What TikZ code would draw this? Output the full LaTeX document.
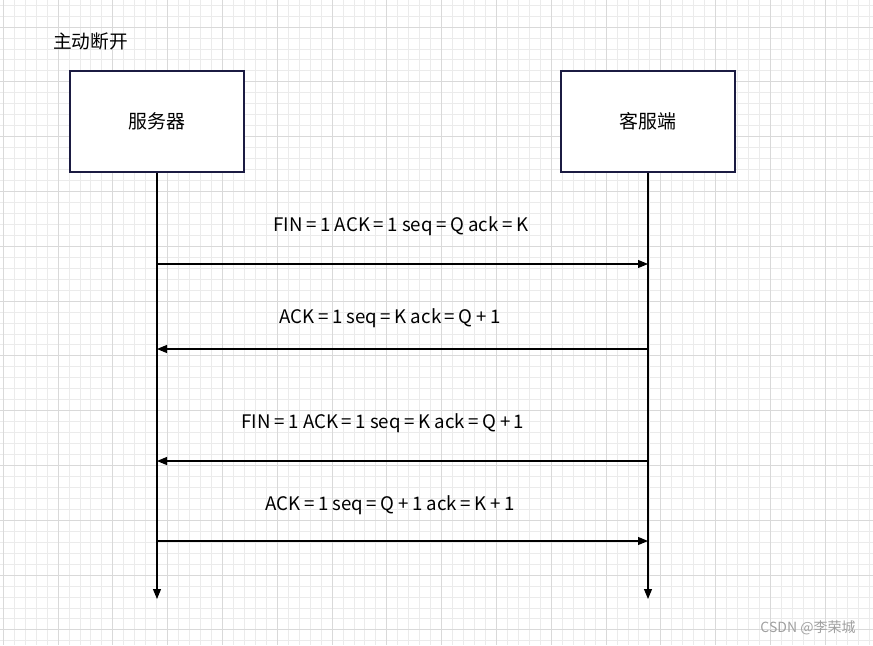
\documentclass[tikz,border=0pt]{standalone}
\usepackage{fontspec}
\usepackage{tikz}
\usetikzlibrary{arrows.meta}
\setmainfont{Noto Sans CJK SC}

\definecolor{gridminor}{HTML}{EBEBEB}
\definecolor{gridmajor}{HTML}{D9D9D9}
\definecolor{boxline}{HTML}{1B1B42}
\definecolor{markgray}{HTML}{A0A0A0}

% wide operators as in the original font
\newcommand{\opeq}{\kern2.7pt=\kern2.7pt}
\newcommand{\opplus}{\kern2.7pt+\kern2.7pt}

\tikzset{
  party/.style={draw=boxline,fill=white,line width=0.9pt,minimum width=130.5pt,minimum height=75.75pt,inner sep=0pt,font=\fontsize{14.2}{16}\selectfont},
  msglabel/.style={inner sep=0.75pt,font=\fontsize{14}{16}\selectfont},
  lifeline/.style={line width=0.8pt,-{Triangle[length=7.5pt,width=6pt]}},
}

\begin{document}
\begin{tikzpicture}[x=0.75pt,y=0.75pt,yscale=-1,xscale=1]
\useasboundingbox (0,0) rectangle (873,645);
\fill[white] (0,0) rectangle (873,645);

% grid
\foreach \i in {0,...,79}
  \draw[gridminor,line width=0.6pt] ({3.2+10.96*\i},0) -- ({3.2+10.96*\i},645);
\foreach \j in {0,...,58}
  \draw[gridminor,line width=0.6pt] (0,{5.1+10.96*\j}) -- (873,{5.1+10.96*\j});
\foreach \i in {0,...,15}
  \draw[gridmajor,line width=0.6pt] ({3.2+54.8*\i},0) -- ({3.2+54.8*\i},645);
\foreach \j in {0,...,11}
  \draw[gridmajor,line width=0.6pt] (0,{27+54.8*\j}) -- (873,{27+54.8*\j});

% Text Node
\draw (52,41) node (title) [anchor=west][inner sep=0.75pt] [font=\fontsize{14}{16}\selectfont] {主动断开};

% boxes
\node (server) [party] at (157,121.5) {服务器};
\node (client) [party] at (648,121.5) {客服端};

% lifeline ends
\coordinate (srvEnd) at (157,599);
\coordinate (cliEnd) at (648,599);
\draw[lifeline] (server.south) -- (srvEnd);
\draw[lifeline] (client.south) -- (cliEnd);

% message points
\coordinate (srv1) at (157,264); \coordinate (cli1) at (648,264);
\coordinate (srv2) at (157,349); \coordinate (cli2) at (648,349);
\coordinate (srv3) at (157,461); \coordinate (cli3) at (648,461);
\coordinate (srv4) at (157,541); \coordinate (cli4) at (648,541);

\draw[lifeline] (srv1) -- (cli1);
\draw[lifeline] (cli2) -- (srv2);
\draw[lifeline] (cli3) -- (srv3);
\draw[lifeline] (srv4) -- (cli4);

% Text Node
\draw (401,226) node (msgA) [msglabel] {FIN\opeq 1 ACK\opeq 1 seq\opeq Q ack\opeq K};
% Text Node
\draw (390,318) node (msgB) [msglabel] {ACK\opeq 1 seq\opeq K ack\opeq Q\opplus 1};
% Text Node
\draw (383,423) node (msgC) [msglabel] {FIN\opeq 1 ACK\opeq 1 seq\opeq K ack\opeq Q\opplus 1};
% Text Node
\draw (390,505) node (msgD) [msglabel] {ACK\opeq 1 seq\opeq Q\opplus 1 ack\opeq K\opplus 1};

% Text Node
\draw (808,628) node (mark) [text=markgray][inner sep=0.75pt] [font=\fontsize{10.5}{12}\selectfont] {CSDN @李荣城};

\end{tikzpicture}
\end{document}
